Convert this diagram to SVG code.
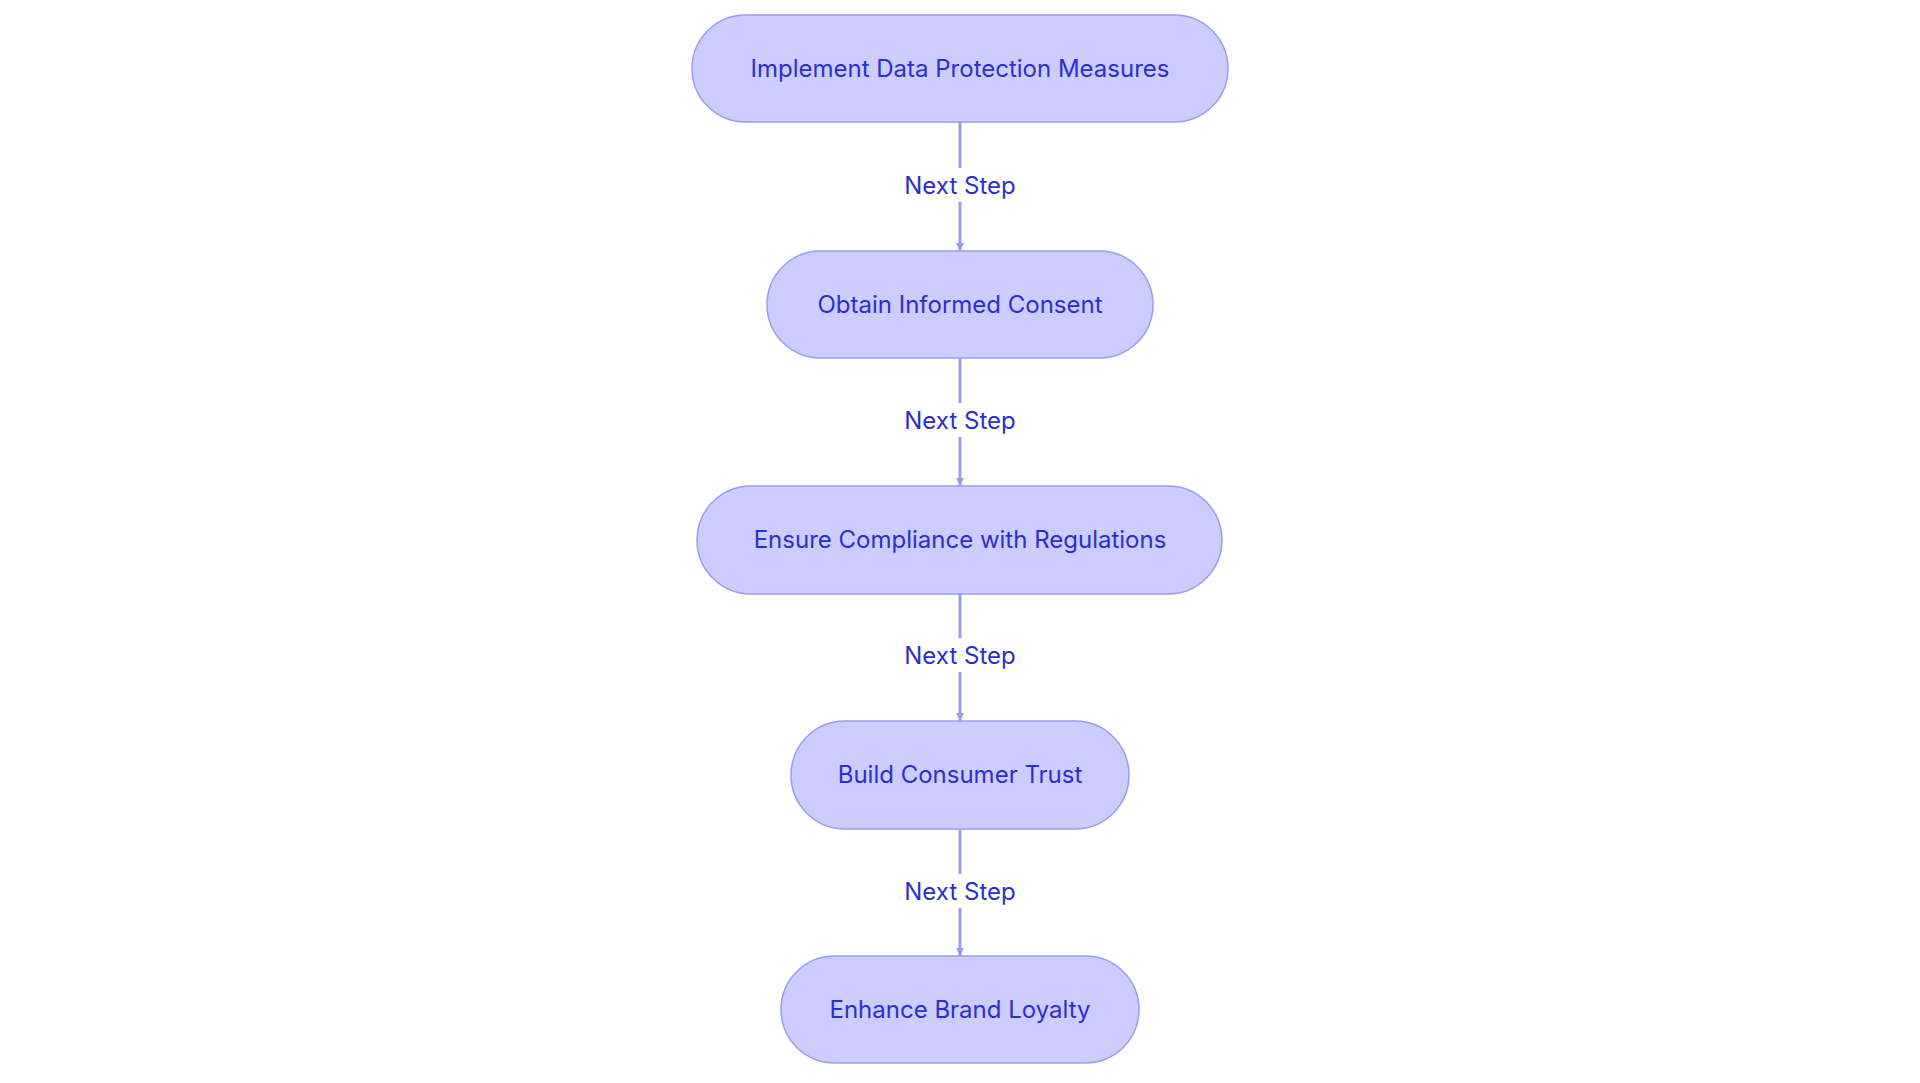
<svg xmlns="http://www.w3.org/2000/svg" width="1920" height="1083" viewBox="0 0 1920 1083">
<style>
.n{fill:#ccccff;stroke:#9a9cf0;stroke-width:1.5}
.t{font-family:Inter,"Noto Sans",sans-serif;font-size:24px;fill:#2b2fd0;text-anchor:middle;dominant-baseline:central}
.e{stroke:#9a9cf0;stroke-width:3;fill:none}
.lb{fill:#ffffff}
</style>
<defs><marker id="a" viewBox="0 0 10 10" refX="10" refY="5" markerWidth="8" markerHeight="8" markerUnits="userSpaceOnUse" orient="auto"><path d="M0,0L10,5L0,10z" fill="#9a9cf0"/></marker></defs>
<rect width="1920" height="1083" fill="#fff"/>
<g id="connectors">
<line class="e" x1="960" y1="122" x2="960" y2="251" marker-end="url(#a)"/>
<line class="e" x1="960" y1="358" x2="960" y2="486" marker-end="url(#a)"/>
<line class="e" x1="960" y1="594" x2="960" y2="721" marker-end="url(#a)"/>
<line class="e" x1="960" y1="829" x2="960" y2="956" marker-end="url(#a)"/>
<rect class="lb" x="895" y="168" width="130" height="34"/><text class="t" x="960" y="185">Next Step</text>
<rect class="lb" x="895" y="403" width="130" height="34"/><text class="t" x="960" y="420">Next Step</text>
<rect class="lb" x="895" y="638" width="130" height="34"/><text class="t" x="960" y="655">Next Step</text>
<rect class="lb" x="895" y="874" width="130" height="34"/><text class="t" x="960" y="891">Next Step</text>
</g>
<g id="n1"><rect class="n" x="692" y="15" width="536" height="107" rx="53.5"/><text class="t" x="960" y="68">Implement Data Protection Measures</text></g>
<g id="n2"><rect class="n" x="767" y="251" width="386" height="107" rx="53.5"/><text class="t" x="960" y="304">Obtain Informed Consent</text></g>
<g id="n3"><rect class="n" x="697" y="486" width="525" height="108" rx="54"/><text class="t" x="960" y="539">Ensure Compliance with Regulations</text></g>
<g id="n4"><rect class="n" x="791" y="721" width="338" height="108" rx="54"/><text class="t" x="960" y="774">Build Consumer Trust</text></g>
<g id="n5"><rect class="n" x="781" y="956" width="358" height="107" rx="53.5"/><text class="t" x="960" y="1009">Enhance Brand Loyalty</text></g>
</svg>
